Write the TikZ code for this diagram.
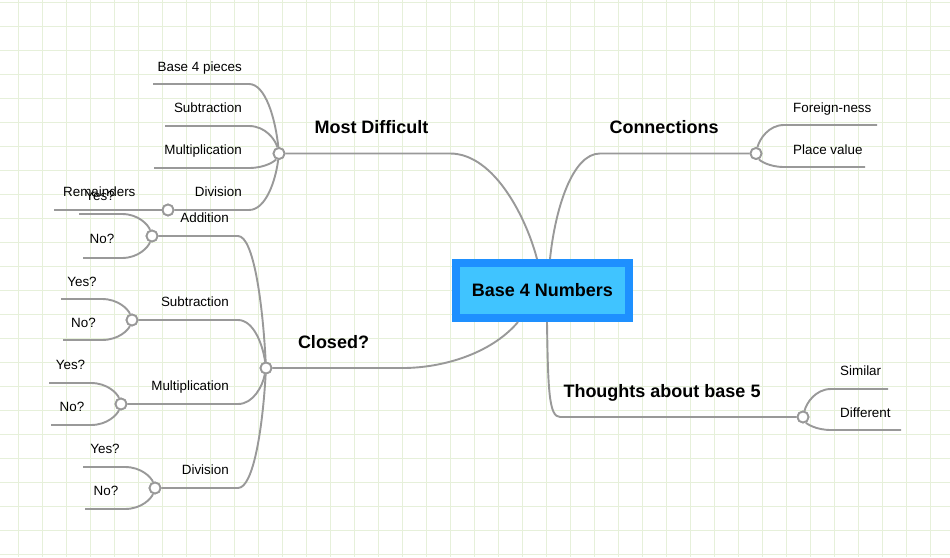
\documentclass[tikz,border=0pt]{standalone}
\usepackage{fontspec}
\setmainfont{Liberation Sans}
\usetikzlibrary{calc}
\definecolor{gridc}{HTML}{E6F0DA}
\definecolor{linec}{HTML}{999999}
\definecolor{bluo}{HTML}{1E90FF}
\definecolor{blui}{HTML}{40C4FF}
\tikzset{
  br/.style={draw=linec, line width=1.9pt},
  knot/.style={circle, draw=linec, line width=1.8pt, fill=white, minimum size=11pt, inner sep=0pt},
  topic/.style={font=\fontsize{18}{22}\selectfont\bfseries, inner sep=0pt},
  leaf/.style={font=\fontsize{13.4}{16}\selectfont, inner sep=0pt},
}
\newcommand\lbr[3]{\draw[br] let \p1=(#1), \p2=(#2), \p3=($(#1)!0.5!(#1|-#2)$) in (#2) -- (\x1-#3pt,\y2) .. controls (\x1-0.45*#3pt,\y2) and (\x1-0.12*#3pt,\y3) .. (#1);}
\newcommand\rbr[3]{\draw[br] let \p1=(#1), \p2=(#2), \p3=($(#1)!0.5!(#1|-#2)$) in (#1) .. controls (\x1+0.12*#3pt,\y3) and (\x1+0.45*#3pt,\y2) .. (\x1+#3pt,\y2) -- (#2);}
\begin{document}
\begin{tikzpicture}[x=1pt,y=-1pt]
\useasboundingbox (0,0) rectangle (950,557);
\fill[white] (0,0) rectangle (950,557);
\foreach \i in {0,...,39} {\draw[gridc, line width=1pt] (18+24*\i,0) -- (18+24*\i,557);}
\foreach \j in {0,...,23} {\draw[gridc, line width=1pt] (0,2+24*\j) -- (950,2+24*\j);}

% central node
\node[draw=bluo, line width=8pt, fill=blui, minimum width=173pt, minimum height=55pt, inner sep=0pt, topic] (root) at (542.5,290.5) {Base 4 Numbers};

% topic knots
\node[knot] (md) at (279,153.5) {};
\node[knot] (cn) at (756,153.5) {};
\node[knot] (cl) at (266,368) {};
\node[knot] (th) at (803,417) {};

% sub knots
\node[knot] (rm) at (168,210) {};
\node[knot] (ad) at (152,236) {};
\node[knot] (cs) at (132,320) {};
\node[knot] (cm) at (121,404) {};
\node[knot] (cd) at (155,488) {};

% free ends
\coordinate (mdA) at (153,84);
\coordinate (mdB) at (165,126);
\coordinate (mdC) at (154,168);
\coordinate (rmA) at (54,210);
\coordinate (adY) at (79,214);
\coordinate (adN) at (83,258);
\coordinate (csY) at (61,299);
\coordinate (csN) at (63,340);
\coordinate (cmY) at (49,383);
\coordinate (cmN) at (51,425);
\coordinate (cdY) at (83,467);
\coordinate (cdN) at (85,509);
\coordinate (cnA) at (877,125);
\coordinate (cnB) at (865,167);
\coordinate (thA) at (888,389);
\coordinate (thB) at (901,430);

% main connectors
\draw[br] (md) -- (450,153.5) .. controls (495,153.5) and (527,220) .. ($(root.north)+(-5.5,0)$);
\draw[br] ($(root.north)+(7.5,0)$) .. controls (555,210) and (572,153.5) .. (600,153.5) -- (cn);
\draw[br] ($(root.south)+(-24.5,0)$) .. controls (490,355) and (440,368) .. (403,368) -- (cl);
\draw[br] ($(root.south)+(4.5,0)$) .. controls (548,390) and (549,417) .. (560,417) -- (th);

% branches
\lbr{md}{mdA}{30}
\lbr{md}{mdB}{30}
\lbr{md}{mdC}{30}
\lbr{md}{rm}{30}
\draw[br] (rm) -- (rmA);
\lbr{cl}{ad}{28}
\lbr{cl}{cs}{28}
\lbr{cl}{cm}{28}
\lbr{cl}{cd}{28}
\lbr{ad}{adY}{30}
\lbr{ad}{adN}{30}
\lbr{cs}{csY}{30}
\lbr{cs}{csN}{30}
\lbr{cm}{cmY}{30}
\lbr{cm}{cmN}{30}
\lbr{cd}{cdY}{30}
\lbr{cd}{cdN}{30}
\rbr{cn}{cnA}{28}
\rbr{cn}{cnB}{28}
\rbr{th}{thA}{28}
\rbr{th}{thB}{28}

% redraw knots on top
\foreach \k in {md,cn,cl,th,rm,ad,cs,cm,cd} {\node[knot] at (\k) {};}

% topic labels
\node[topic, anchor=base] (tmd) at (371.5,133) {Most Difficult};
\node[topic, anchor=base] (tcn) at (664,133) {Connections};
\node[topic, anchor=base] (tcl) at (333.5,348) {Closed?};
\node[topic, anchor=base] (tth) at (662,397) {Thoughts about base 5};

% leaf labels
\node[leaf, anchor=base east] (l1) at (242,71) {Base 4 pieces};
\node[leaf, anchor=base east] (l2) at (242,112) {Subtraction};
\node[leaf, anchor=base east] (l3) at (242,154) {Multiplication};
\node[leaf, anchor=base east] (l4) at (242,196) {Division};
\node[leaf, anchor=base west] (l5) at (63,196) {Remainders};
\node[leaf, anchor=base east] (l6) at (229,222) {Addition};
\node[leaf, anchor=base] (l7) at (100,200) {Yes?};
\node[leaf, anchor=base] (l8) at (102,243) {No?};
\node[leaf, anchor=base east] (l9) at (229,306) {Subtraction};
\node[leaf, anchor=base] (l10) at (82,286) {Yes?};
\node[leaf, anchor=base] (l11) at (83.5,327) {No?};
\node[leaf, anchor=base east] (l12) at (229,390) {Multiplication};
\node[leaf, anchor=base] (l13) at (70.5,369) {Yes?};
\node[leaf, anchor=base] (l14) at (72,411) {No?};
\node[leaf, anchor=base east] (l15) at (229,474) {Division};
\node[leaf, anchor=base] (l16) at (105,453) {Yes?};
\node[leaf, anchor=base] (l17) at (106,495) {No?};
\node[leaf, anchor=base west] (l18) at (793,112) {Foreign-ness};
\node[leaf, anchor=base west] (l19) at (793,154) {Place value};
\node[leaf, anchor=base west] (l20) at (840,375) {Similar};
\node[leaf, anchor=base west] (l21) at (840,417) {Different};
\end{tikzpicture}
\end{document}
